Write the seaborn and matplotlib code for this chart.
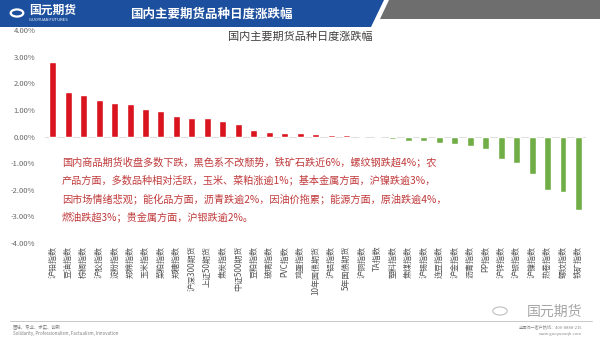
import matplotlib
matplotlib.use("Agg")
import matplotlib.pyplot as plt
import seaborn as sns
import pandas as pd
from matplotlib.patches import Polygon, Circle
from matplotlib.ticker import FuncFormatter

categories = ["沪铅指数", "豆油指数", "棕榈指数", "沪胶指数", "淀粉指数", "郑棉指数", "玉米指数",
              "菜粕指数", "郑糖指数", "沪深300期货", "上证50期货", "焦炭指数", "中证500期货",
              "豆粕指数", "玻璃指数", "PVC指数", "鸡蛋指数", "10年国债期货", "沪铝指数",
              "5年国债期货", "沪铜指数", "TA指数", "塑料指数", "焦煤指数", "沪锡指数",
              "连豆指数", "沪金指数", "沥青指数", "PP指数", "沪锌指数", "沪银指数",
              "沪镍指数", "热卷指数", "螺纹指数", "铁矿指数"]
changes = [2.80, 1.67, 1.57, 1.36, 1.26, 1.22, 1.04, 0.97, 0.79, 0.70, 0.69, 0.59, 0.47,
           0.24, 0.16, 0.14, 0.12, 0.09, 0.06, 0.05, -0.02, -0.03, -0.10, -0.15, -0.16,
           -0.26, -0.27, -0.35, -0.47, -0.86, -1.00, -1.41, -2.02, -2.08, -2.76]
yticks = [-4, -3, -2, -1, 0, 1, 2, 3, 4]
chart_title = "国内主要期货品种日度涨跌幅"
header_title = "国内主要期货品种日度涨跌幅"
comment_lines = [
    "国内商品期货收盘多数下跌，黑色系不改颓势，铁矿石跌近6%，螺纹钢跌超4%；农",
    "产品方面，多数品种相对活跃，玉米、菜粕涨逾1%；基本金属方面，沪镍跌逾3%，",
    "因市场情绪悲观；能化品方面，沥青跌逾2%，因油价拖累；能源方面，原油跌逾4%，",
    "燃油跌超3%；贵金属方面，沪银跌逾2%。",
]

sns.set_theme(style="white")
plt.rcParams["font.family"] = ["Noto Sans CJK SC", "DejaVu Sans"]
plt.rcParams["axes.unicode_minus"] = False

RED = "#D9141E"
GREEN = "#70AD47"
df = pd.DataFrame({"cat": categories, "val": changes})
colors = [RED if v >= 0 else GREEN for v in changes]

fig = plt.figure(figsize=(6.0, 3.38), dpi=100)
ax = fig.add_axes([0.075, 0.281, 0.902, 0.630])
sns.barplot(data=df, x="cat", y="val", hue="cat", palette=colors, legend=False,
            width=0.45, ax=ax, saturation=1)
ax.set_xlim(-0.5, len(categories) - 0.5)
ax.set_ylim(-4, 4)
ax.set_yticks(yticks)
ax.yaxis.set_major_formatter(FuncFormatter(lambda v, p: f"{v:.2f}%"))
ax.tick_params(axis="y", labelsize=5.5, labelcolor="#666666", length=0, pad=7)
ax.tick_params(axis="x", labelsize=5.8, labelcolor="#555555", length=0, pad=2)
for lab in ax.get_xticklabels():
    lab.set_rotation(90)
    lab.set_ha("center")
    lab.set_va("top")
ax.set_xlabel("")
ax.set_ylabel("")
for s in ax.spines.values():
    s.set_visible(False)
ax.axhline(0, color="#E0E0E0", lw=0.8, zorder=0)
ax.patch.set_alpha(0)

# chart title
fig.text(0.5, 1 - 37 / 338, chart_title, ha="center", va="center",
         fontsize=8, color="#404040")

# commentary text
for i, line in enumerate(comment_lines):
    fig.text(62 / 600, 1 - (162 + i * 18.5) / 338, line, ha="left", va="center",
             fontsize=7.3, color="#C0393B")

# header banner
W, H = 600, 338
def fx(x):
    return x / W
def fy(y):
    return 1 - y / H
fig.patches.append(Polygon([(fx(0), fy(0)), (fx(384), fy(0)), (fx(371), fy(27)), (fx(0), fy(27))],
                           closed=True, transform=fig.transFigure, facecolor="#1C4F9E",
                           edgecolor="none", zorder=0))
fig.patches.append(Polygon([(fx(389), fy(0)), (fx(600), fy(0)), (fx(600), fy(19)), (fx(380), fy(19))],
                           closed=True, transform=fig.transFigure, facecolor="#6E6E6E",
                           edgecolor="none", zorder=0))
fig.patches.append(Circle((fx(17), fy(13)), 0.0105, transform=fig.transFigure,
                          facecolor="none", edgecolor="white", lw=1.6, zorder=1))
fig.text(fx(29), fy(10), "国元期货", ha="left", va="center", fontsize=8.5,
         color="white", fontweight="bold")
fig.text(fx(29), fy(20), "GUOYUAN FUTURES", ha="left", va="center", fontsize=3,
         color="white")
fig.text(fx(130), fy(14), header_title, ha="left", va="center", fontsize=9,
         color="white", fontweight="bold")

# footer
fig.add_artist(plt.Line2D([fx(10), fx(592)], [fy(321), fy(321)], transform=fig.transFigure,
                          color="#BFBFBF", lw=0.6))
fig.text(fx(13), fy(327), "团结、专业、求实、创新", ha="left", va="center",
         fontsize=3.2, color="#7F7F7F")
fig.text(fx(13), fy(334), "Solidarity, Professionalism, Factualism, Innovation",
         ha="left", va="center", fontsize=3.2, color="#7F7F7F")
fig.text(fx(582), fy(312), "国元期货", ha="right", va="center", fontsize=10,
         color="#A6A6A6")
fig.patches.append(Circle((fx(500), fy(311)), 0.012, transform=fig.transFigure,
                          facecolor="none", edgecolor="#BFBFBF", lw=0.8))
fig.text(fx(582), fy(327), "全国统一客户热线：400-8888-215", ha="right", va="center",
         fontsize=3, color="#8C8C8C")
fig.text(fx(582), fy(334), "www.guoyuanqh.com", ha="right", va="center",
         fontsize=3, color="#8C8C8C")

fig.savefig("out.png", dpi=100)
